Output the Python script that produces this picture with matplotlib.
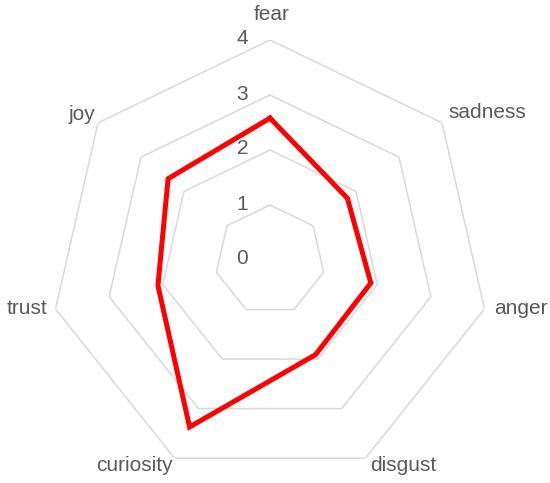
import numpy as np
import matplotlib
matplotlib.use("Agg")
from matplotlib import pyplot as plt

categories = ["fear", "sadness", "anger", "disgust", "curiosity", "trust", "joy"]
values = [2.58, 1.80, 1.88, 1.91, 3.37, 2.09, 2.37]
levels = [0, 1, 2, 3, 4]

# label offsets in pixels from the outer vertex, plus alignment
label_pos = [(2, 25, "center"), (6, 10, "left"), (10, 0, "left"), (5, -7, "left"),
             (-2, -7, "right"), (-8, 0, "right"), (-3, 8, "right")]

grid_color = "#d9d9d9"
text_color = "#5a5a5a"

plt.rcParams["font.family"] = ["Liberation Sans", "DejaVu Sans"]

fig = plt.figure(figsize=(5.5, 4.83), dpi=100)
ax = fig.add_axes([50 / 550, 3 / 483, 440 / 550, 440 / 483], projection="polar")
ax.set_theta_offset(np.pi / 2)
ax.set_theta_direction(-1)
ax.set_ylim(0, 4)
ax.grid(False)
ax.spines["polar"].set_visible(False)
ax.set_xticks([])
ax.set_yticks([])
ax.patch.set_alpha(0)

n = len(categories)
theta = np.arange(n) * 2 * np.pi / n
theta_closed = np.append(theta, theta[0])

for lv in levels[1:]:
    ax.plot(theta_closed, [lv] * (n + 1), color=grid_color, lw=1.1, zorder=1)

ax.plot(theta_closed, values + [values[0]], color="#ff0000", lw=3.6,
        solid_joinstyle="miter", zorder=3)

for lv in levels:
    ax.annotate(str(lv), xy=(0, lv), xytext=(-22, 1), textcoords="offset pixels",
                ha="right", va="center", fontsize=15, color=text_color,
                annotation_clip=False)

for t, cat, (dx, dy, ha) in zip(theta, categories, label_pos):
    ax.annotate(cat, xy=(t, 4), xytext=(dx, dy), textcoords="offset pixels",
                ha=ha, va="center", fontsize=15, color=text_color,
                annotation_clip=False)

fig.savefig("out.png", dpi=100)
